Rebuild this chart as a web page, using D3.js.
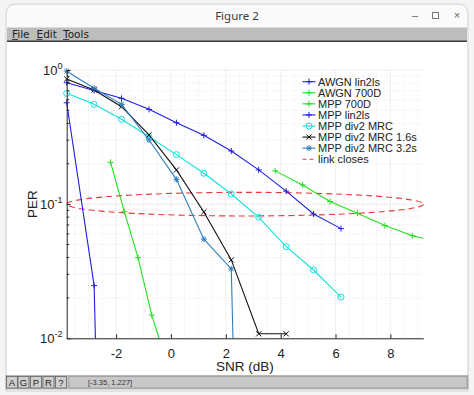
<!DOCTYPE html>
<html><head><meta charset="utf-8">
<script src="https://cdn.jsdelivr.net/npm/d3@7"></script>
<style>
html,body{margin:0;padding:0;background:#f4f4f4;}
svg{display:block;font-family:"Liberation Sans",Arial,sans-serif;}
</style></head><body>
<svg id="c" width="474" height="395"></svg>
<script>
// ---------- data ----------
const snrStep1 = [-3.8,-2.8,-1.8,-0.8,0.2,1.2,2.2,3.2,4.2,5.2,6.2];
const snrAwgnLin2ls = [-3.8,-2.8,-1.8];
const perAwgnLin2ls = [0.57,0.0247,1e-10];
const snrAwgn700D = [3.8,4.8,5.8,6.8,7.8,8.8,9.8];
const perAwgn700D = [0.177,0.139,0.1045,0.0855,0.0692,0.0582,0.0519];
const snrMpp700D = [-2.2,-1.7,-1.2,-0.7,-0.2];
const perMpp700D = [0.205,0.0879,0.0399,0.0149,0.0071];
const perMppLin2ls = [0.804,0.703,0.615,0.509,0.405,0.326,0.249,0.180,0.125,0.0845,0.0657];
const perMppDiv2 = [0.670,0.555,0.429,0.318,0.234,0.170,0.119,0.0798,0.0482,0.0323,0.0203];
const snrMppDiv2_16 = [-3.8,-2.8,-1.8,-0.8,0.2,1.2,2.2,3.2,4.2];
const perMppDiv2_16 = [0.857,0.710,0.533,0.328,0.180,0.0875,0.0384,0.0108,0.0108];
const snrMppDiv2_32 = [-3.8,-2.8,-1.8,-0.8,0.2,1.2,2.2,3.2];
const perMppDiv2_32 = [0.98,0.731,0.555,0.301,0.153,0.0548,0.0329,1e-10];
// "link closes" ellipse: centre SNR, half width (dB), centre PER, log10 half height
const linkCentre = [2.7, 0.1];
const linkHalf = [6.5, 0.088];
const xTicks = [-2,0,2,4,6,8];
const yTicks = [1,0.1,0.01];
const yTickExp = ["0","-1","-2"];
const legendLabels = ["AWGN lin2ls","AWGN 700D","MPP 700D","MPP lin2ls","MPP div2 MRC","MPP div2 MRC 1.6s","MPP div2 MRC 3.2s","link closes"];

const series = [
  {x:snrAwgnLin2ls, y:perAwgnLin2ls, color:"#1f1fe0", marker:"plus"},
  {x:snrAwgn700D, y:perAwgn700D, color:"#1fe01f", marker:"plus"},
  {x:snrMpp700D, y:perMpp700D, color:"#1fe01f", marker:"plus"},
  {x:snrStep1, y:perMppLin2ls, color:"#1f1fe0", marker:"plus"},
  {x:snrStep1, y:perMppDiv2, color:"#14e0e0", marker:"circle"},
  {x:snrMppDiv2_16, y:perMppDiv2_16, color:"#111111", marker:"cross"},
  {x:snrMppDiv2_32, y:perMppDiv2_32, color:"#2f7fc0", marker:"star"}
];

const svg = d3.select("#c");

// ---------- window chrome ----------
svg.append("rect").attr("x",0).attr("y",0).attr("width",474).attr("height",395).attr("fill","#f4f4f4");
svg.append("path").attr("d","M6,391V14Q6,4 16,4H458Q468,4 468,14V391Z").attr("fill","#fafafa").attr("stroke","#d0d0d0");
svg.append("text").attr("x",237).attr("y",19.5).attr("text-anchor","middle")
  .style("font-family","'Noto Sans',sans-serif").style("font-size","11.5px").attr("fill","#3a3a3a").text("Figure 2");
svg.append("text").attr("x",415).attr("y",19).attr("text-anchor","middle").style("font-size","11px").attr("fill","#666").text("–");
svg.append("rect").attr("x",432.5).attr("y",12.5).attr("width",6).attr("height",6).attr("fill","none").attr("stroke","#777");
svg.append("text").attr("x",457).attr("y",19).attr("text-anchor","middle").style("font-size","11px").attr("fill","#666").text("×");
svg.append("rect").attr("x",7).attr("y",27.5).attr("width",460).attr("height",13.5).attr("fill","#bdbdbd");
svg.append("rect").attr("x",7).attr("y",40.5).attr("width",460).attr("height",1.6).attr("fill","#3a3a3a");
const menus = [["File",12],["Edit",36.5],["Tools",63]];
menus.forEach(([t,mx])=>{
  svg.append("text").attr("x",mx).attr("y",38).style("font-family","'DejaVu Sans',sans-serif")
    .style("font-size","10.5px").attr("fill","#222").text(t);
  svg.append("rect").attr("x",mx).attr("y",39).attr("width",6).attr("height",0.8).attr("fill","#222");
});
svg.append("rect").attr("x",7).attr("y",42).attr("width",460).attr("height",334).attr("fill","#ffffff");
// status bar
svg.append("rect").attr("x",6).attr("y",375.5).attr("width",462).attr("height",13.5).attr("fill","#c4c4c4").attr("stroke","#9a9a9a").attr("stroke-width",0.6);
const btns = [["A",6],["G",17.5],["P",30],["R",42.5],["?",55]];
btns.forEach(([t,bx])=>{
  svg.append("rect").attr("x",bx+0.5).attr("y",376.5).attr("width",11).attr("height",11.5).attr("fill","#cfcfcf").attr("stroke","#555").attr("stroke-width",0.7);
  svg.append("text").attr("x",bx+6).attr("y",386).attr("text-anchor","middle").style("font-size","9.5px").attr("fill","#222").text(t);
});
svg.append("rect").attr("x",69).attr("y",376.5).attr("width",398).attr("height",11.5).attr("fill","#c8c8c8").attr("stroke","#8a8a8a").attr("stroke-width",0.6);
svg.append("text").attr("x",88).attr("y",385).style("font-size","7.5px").attr("fill","#333").text("[-3.35, 1.227]");

// ---------- plot ----------
const L=66.7, R=423.3, T=70, B=338.3;
const x = d3.scaleLinear().domain([-3.8, 9.2]).range([L, R]);
const y = d3.scaleLog().domain([0.01, 1]).range([B, T]);

svg.append("defs").append("clipPath").attr("id","clip")
  .append("rect").attr("x",L).attr("y",T).attr("width",R-L).attr("height",B-T);

// grid
const grid = svg.append("g");
const minorX = d3.range(-3.5, 9.01, 0.5);
grid.selectAll(".gx").data(minorX).join("line")
  .attr("x1",d=>x(d)).attr("x2",d=>x(d)).attr("y1",T).attr("y2",B)
  .attr("stroke",d=>xTicks.includes(d)?"#d2d2d2":"#e4e4e4").attr("stroke-dasharray","1,1.5").attr("stroke-width",0.8);
const minorY = [];
[0.01,0.1].forEach(dec=>{for(let k=1;k<=10;k++) minorY.push(dec*k);});
grid.selectAll(".gy").data(minorY).join("line")
  .attr("x1",L).attr("x2",R).attr("y1",d=>y(d)).attr("y2",d=>y(d))
  .attr("stroke",(d,i)=>(i%10===0||i===19)?"#d2d2d2":"#e4e4e4").attr("stroke-dasharray","1,1.5").attr("stroke-width",0.8);

// link closes ellipse
svg.append("ellipse")
  .attr("cx", x(linkCentre[0]))
  .attr("cy", y(linkCentre[1]))
  .attr("rx", x(linkCentre[0]+linkHalf[0]) - x(linkCentre[0]))
  .attr("ry", y(linkCentre[1]) - y(linkCentre[1]*Math.pow(10,linkHalf[1])))
  .attr("fill","none").attr("stroke","#e8383d").attr("stroke-width",1.1).attr("stroke-dasharray","6,4");

// lines
const line = d3.line().x(d=>x(d[0])).y(d=>y(d[1]));
const gLines = svg.append("g").attr("clip-path","url(#clip)");
series.forEach(s=>{
  const pts = s.x.map((v,i)=>[v,s.y[i]]);
  gLines.append("path").attr("d",line(pts)).attr("fill","none").attr("stroke",s.color).attr("stroke-width",1.1);
});

// markers
const markerPath = {
  plus:"M-3,0H3M0,-3V3",
  cross:"M-2.6,-2.6L2.6,2.6M-2.6,2.6L2.6,-2.6",
  star:"M-3,0H3M0,-3V3M-2.3,-2.3L2.3,2.3M-2.3,2.3L2.3,-2.3"
};
function drawMarker(g, type, cx, cy, color){
  if(type==="circle"){
    g.append("circle").attr("cx",cx).attr("cy",cy).attr("r",3).attr("fill","none").attr("stroke",color).attr("stroke-width",1);
  } else {
    g.append("path").attr("transform",`translate(${cx},${cy})`).attr("d",markerPath[type])
      .attr("fill","none").attr("stroke",color).attr("stroke-width",1);
  }
}
const gMarks = svg.append("g");
series.forEach(s=>{
  s.x.forEach((v,i)=>{
    const p = s.y[i];
    if(v>=-3.8 && v<=9.2 && p>=0.0099 && p<=1.001) drawMarker(gMarks, s.marker, x(v), y(p), s.color);
  });
});

// axes
const axisColor = "#262626";
const gx = svg.append("g").attr("transform",`translate(0,${B})`)
  .call(d3.axisBottom(x).tickValues(xTicks).tickSizeInner(-4).tickSizeOuter(0).tickPadding(10).tickFormat(d=>d));
gx.select(".domain").attr("stroke",axisColor);
gx.selectAll(".tick line").attr("stroke",axisColor);
gx.selectAll(".tick text").style("font-size","13px").style("font-family","'Liberation Sans',Arial,sans-serif").attr("fill","#222");

const gy = svg.append("g").attr("transform",`translate(${L},0)`)
  .call(d3.axisLeft(y).tickValues(yTicks).tickSizeInner(-4).tickSizeOuter(0).tickFormat(""));
gy.select(".domain").attr("stroke",axisColor);
gy.selectAll(".tick line").attr("stroke",axisColor);
// minor y ticks
gy.selectAll(".mt").data(minorY.filter(d=>!yTicks.includes(d) && d<1)).join("line")
  .attr("x1",0).attr("x2",2.5).attr("y1",d=>y(d)).attr("y2",d=>y(d)).attr("stroke",axisColor);

yTicks.forEach((t,i)=>{
  const tx = svg.append("text").attr("x",62.5).attr("y",y(t)+4.8).attr("text-anchor","end")
    .style("font-size","13px").attr("fill","#222");
  tx.append("tspan").text("10");
  tx.append("tspan").attr("dy",-6).style("font-size","9px").text(yTickExp[i]);
});

svg.append("text").attr("transform",`translate(37,${(T+B)/2}) rotate(-90)`).attr("text-anchor","middle")
  .style("font-size","13.5px").attr("fill","#222").text("PER");
svg.append("text").attr("x",(L+R)/2).attr("y",371).attr("text-anchor","middle")
  .style("font-size","13.5px").attr("fill","#222").text("SNR (dB)");

// legend
const legColors = series.map(s=>s.color).concat(["#e8383d"]);
const legMarks = series.map(s=>s.marker).concat([null]);
const gLeg = svg.append("g");
legendLabels.forEach((lab,i)=>{
  const ly = 81.7 + i*11.08;
  const ln = gLeg.append("line").attr("x1",302.5).attr("x2",315.5).attr("y1",ly).attr("y2",ly)
    .attr("stroke",legColors[i]).attr("stroke-width",1.1);
  if(legMarks[i]) drawMarker(gLeg, legMarks[i], 309, ly, legColors[i]);
  else ln.attr("stroke-dasharray","4,3");
  gLeg.append("text").attr("x",318).attr("y",ly+4).style("font-size","11px").attr("fill","#222").text(lab);
});
</script>
</body></html>
